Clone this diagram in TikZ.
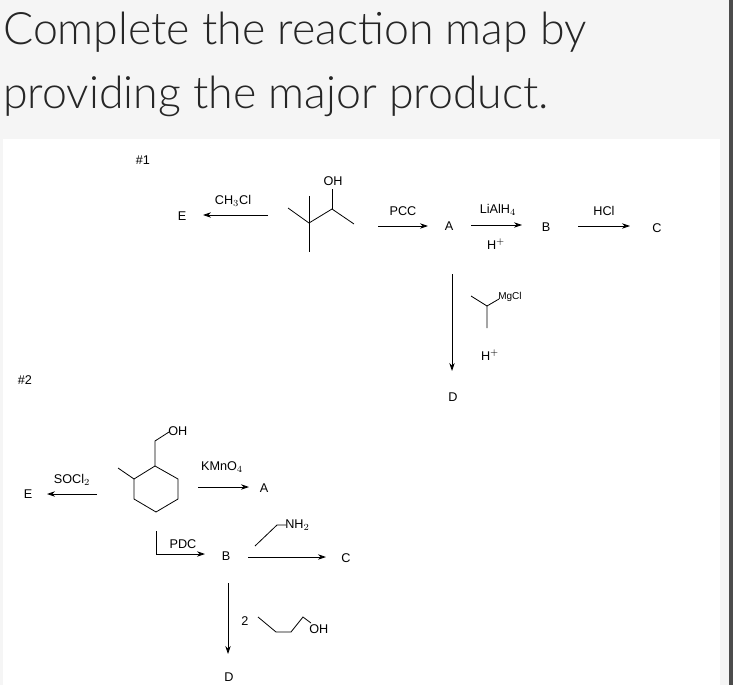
\documentclass[tikz,border=0pt]{standalone}
\usepackage{fontspec}
\setmainfont{Liberation Sans}
\newfontfamily\titlefont{Lato Light}
\usetikzlibrary{arrows.meta}
\begin{document}
\begin{tikzpicture}[x=0.75pt,y=-0.75pt,
  lbl/.style={font=\fontsize{9.5}{10}\selectfont,inner sep=0pt},
  sml/.style={font=\fontsize{7.5}{8}\selectfont,inner sep=0pt},
  bond/.style={line width=0.6pt},
  rx/.style={line width=0.6pt,-{Stealth[length=6pt,width=4pt]}}]
\fill[black!4] (0,0) rectangle (733,685);
\fill[black!70] (729,0) rectangle (733,685);
\fill[white] (3,139) rectangle (720,685);
\useasboundingbox (0,0) rectangle (733,685);
\node[anchor=base west,inner sep=0pt,font=\titlefont\fontsize{33.5}{30}\selectfont,text=black!85] (t1) at (3,45) {Complete the reaction map by};
\node[anchor=base west,inner sep=0pt,font=\titlefont\fontsize{33.5}{30}\selectfont,text=black!85] (t2) at (3,109) {providing the major product.};
% #1
\node[lbl] (h1) at (143,160) {\#1};
\node[lbl] (E1) at (182,216) {E};
\node[lbl] (ch3cl) at (233,201) {CH$_3$Cl};
\coordinate (e1s) at (268,215); \coordinate (e1e) at (203,215);
\draw[rx] (e1s) -- (e1e);
\coordinate (q) at (309,223); \coordinate (ch) at (332,209);
\draw[bond] (288,208) -- (q) -- (ch) -- (354,224);
\draw[bond] (309,196) -- (309,252);
\draw[bond] (ch) -- (332,189);
\node[lbl] (oh1) at (333,181) {OH};
\coordinate (p1) at (378,226); \coordinate (p2) at (428,226);
\draw[rx] (p1) -- (p2);
\node[lbl] (pcc) at (403,211) {PCC};
\node[lbl] (A1) at (449,226) {A};
\coordinate (l1) at (471,225); \coordinate (l2) at (522,225);
\draw[rx] (l1) -- (l2);
\node[lbl] (lah) at (498,210) {LiAlH$_4$};
\node[lbl] (hp1) at (496,244) {H$^{+}$};
\node[lbl] (B1) at (546,227) {B};
\coordinate (c1) at (578,226); \coordinate (c2) at (630,226);
\draw[rx] (c1) -- (c2);
\node[lbl] (hcl) at (604,211) {HCl};
\node[lbl] (C1) at (657,228) {C};
\coordinate (d1) at (452,274); \coordinate (d2) at (452,371);
\draw[rx] (d1) -- (d2);
\node[lbl] (D1) at (453,397) {D};
\coordinate (mg) at (487,306);
\draw[bond] (471,296) -- (mg) -- (487,328);
\draw[bond] (mg) -- (499,299);
\node[sml,anchor=west] (mgcl) at (498,297) {MgCl};
\node[lbl] (hp2) at (490,355) {H$^{+}$};
% #2
\node[lbl] (h2) at (25,380) {\#2};
\draw[bond] (155,466) -- (178,479) -- (178,499) -- (156,512) -- (134,499) -- (134,479) -- cycle;
\draw[bond] (155,466) -- (155,441) -- (169,432);
\node[lbl,anchor=west] (oh2) at (168,431) {OH};
\draw[bond] (134,479) -- (118,468);
\coordinate (s1) at (97,494); \coordinate (s2) at (47,494);
\draw[rx] (s1) -- (s2);
\node[lbl] (socl) at (72,480) {SOCl$_2$};
\node[lbl] (E2) at (28,494) {E};
\coordinate (k1) at (198,487); \coordinate (k2) at (249,487);
\draw[rx] (k1) -- (k2);
\node[lbl] (kmn) at (222,467) {KMnO$_4$};
\node[lbl] (A2) at (264,488) {A};
\coordinate (pd0) at (156,531); \coordinate (pd1) at (156,554); \coordinate (pd2) at (205,554);
\draw[rx] (pd0) -- (pd1) -- (pd2);
\node[lbl] (pdc) at (183,544) {PDC};
\node[lbl] (B2) at (226,556) {B};
\coordinate (n1) at (248,557); \coordinate (n2) at (326,557);
\draw[rx] (n1) -- (n2);
\node[lbl] (C2) at (346,558) {C};
\draw[bond] (255,546) -- (277,525) -- (286,525);
\node[lbl,anchor=west] (nh2) at (285,525) {NH$_2$};
\coordinate (dd1) at (228,583); \coordinate (dd2) at (228,654);
\draw[rx] (dd1) -- (dd2);
\node[lbl] (D2) at (229,677) {D};
\node[lbl] (two) at (245,621) {2};
\draw[bond] (258,617) -- (276,632) -- (291,632) -- (303,617) -- (311,623);
\node[lbl,anchor=west] (oh3) at (309,629) {OH};
\end{tikzpicture}
\end{document}
